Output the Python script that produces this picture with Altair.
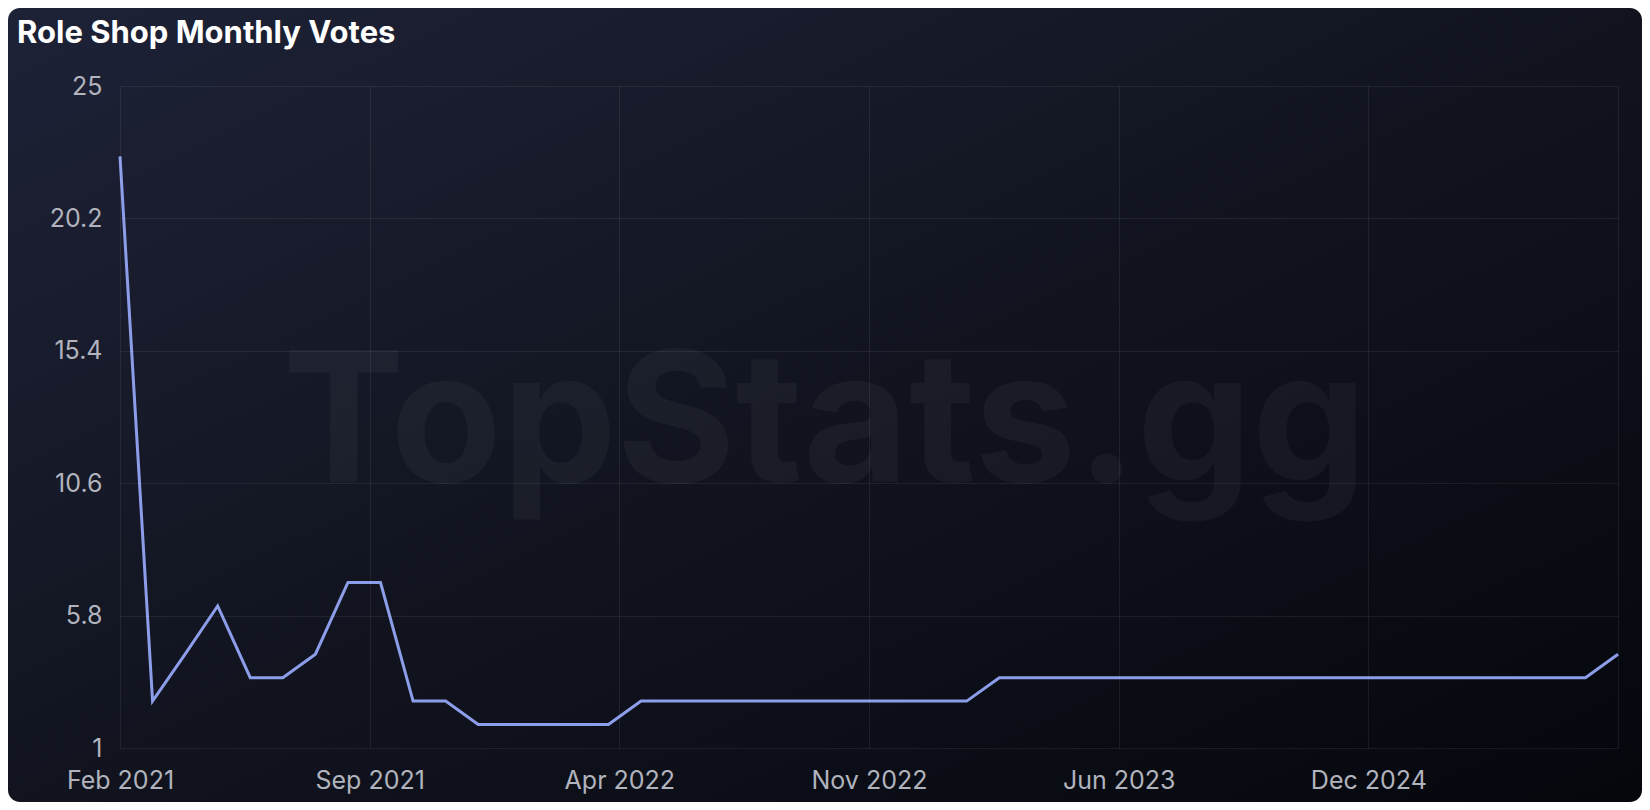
import json
import altair as alt
import pandas as pd

# ---- chart content ----
chart_title = "Role Shop Monthly Votes"
watermark_text = "TopStats.gg"
x_tick_labels = ["Feb 2021", "Sep 2021", "Apr 2022", "Nov 2022", "Jun 2023", "Dec 2024"]
y_tick_values = [1, 5.8, 10.6, 15.4, 20.2, 25]
votes = [
    22.45, 2.7, 4.4, 6.15, 3.55, 3.55, 4.4, 7.0, 7.0, 2.7, 2.7,
    1.85, 1.85, 1.85, 1.85, 1.85,
    2.7, 2.7, 2.7, 2.7, 2.7, 2.7, 2.7, 2.7, 2.7, 2.7, 2.7,
    3.55, 3.55, 3.55, 3.55, 3.55, 3.55, 3.55, 3.55, 3.55, 3.55,
    3.55, 3.55, 3.55, 3.55, 3.55, 3.55, 3.55, 3.55, 3.55,
    4.4,
]

# ---- layout / style ----
W, H = 1498, 662
PAD_L, PAD_R, PAD_T, PAD_B = 112, 24, 78, 54
FONT = "Inter"
LABEL_COLOR = "#b1b3bd"
LINE_COLOR = "#8c9eea"

df = pd.DataFrame({"point": list(range(len(votes))), "votes": votes})
last = len(votes) - 1
step = last / 6
tick_vals = [step * k for k in range(7)]
label_expr = f"{json.dumps(x_tick_labels)}[round(datum.value / {step})] || ''"

card = alt.Chart(pd.DataFrame({"k": [0]})).mark_rect(
    cornerRadius=12,
    color=alt.LinearGradient(
        gradient="linear",
        stops=[
            alt.GradientStop(color="#1e2237", offset=0),
            alt.GradientStop(color="#11141f", offset=0.5),
            alt.GradientStop(color="#05070d", offset=1),
        ],
        x1=0, y1=0, x2=1, y2=1,
    ),
).encode(
    x=alt.value(-PAD_L), x2=alt.value(W + PAD_R),
    y=alt.value(-PAD_T), y2=alt.value(H + PAD_B),
)

watermark = alt.Chart(pd.DataFrame({"t": [watermark_text]})).mark_text(
    font=FONT, fontSize=182, fontWeight="bold", color="#ffffff", opacity=0.035,
    align="center", baseline="alphabetic",
).encode(text="t:N", x=alt.value(705), y=alt.value(396))

title = alt.Chart(pd.DataFrame({"t": [chart_title]})).mark_text(
    font=FONT, fontSize=31, fontWeight="bold", color="#ffffff",
    align="left", baseline="alphabetic",
).encode(text="t:N", x=alt.value(-103), y=alt.value(-43))

line = alt.Chart(df).mark_line(color=LINE_COLOR, strokeWidth=3).encode(
    x=alt.X(
        "point:Q",
        scale=alt.Scale(domain=[0, last], nice=False, zero=False),
        axis=alt.Axis(
            values=tick_vals, labelExpr=label_expr, labelFlush=False,
            labelOverlap=False, labelPadding=20, title=None, zindex=1,
        ),
    ),
    y=alt.Y(
        "votes:Q",
        scale=alt.Scale(domain=[1, 25], nice=False, zero=False),
        axis=alt.Axis(
            values=y_tick_values, format=".3~g", labelPadding=18,
            labelFlush=False, labelOverlap=False, title=None, zindex=1,
        ),
    ),
)

chart = alt.layer(card, watermark, title, line).properties(
    width=W, height=H, padding={"left": 0, "top": 0, "right": 0, "bottom": 0}
).configure_axis(
    labelFont=FONT, labelFontSize=25, labelColor=LABEL_COLOR,
    grid=True, gridColor="#ffffff", gridOpacity=0.07, gridWidth=1,
    domain=False, ticks=False, tickSize=0,
).configure_view(stroke="transparent")

chart.save("out.html", embed_options={"renderer": "svg", "actions": False})
